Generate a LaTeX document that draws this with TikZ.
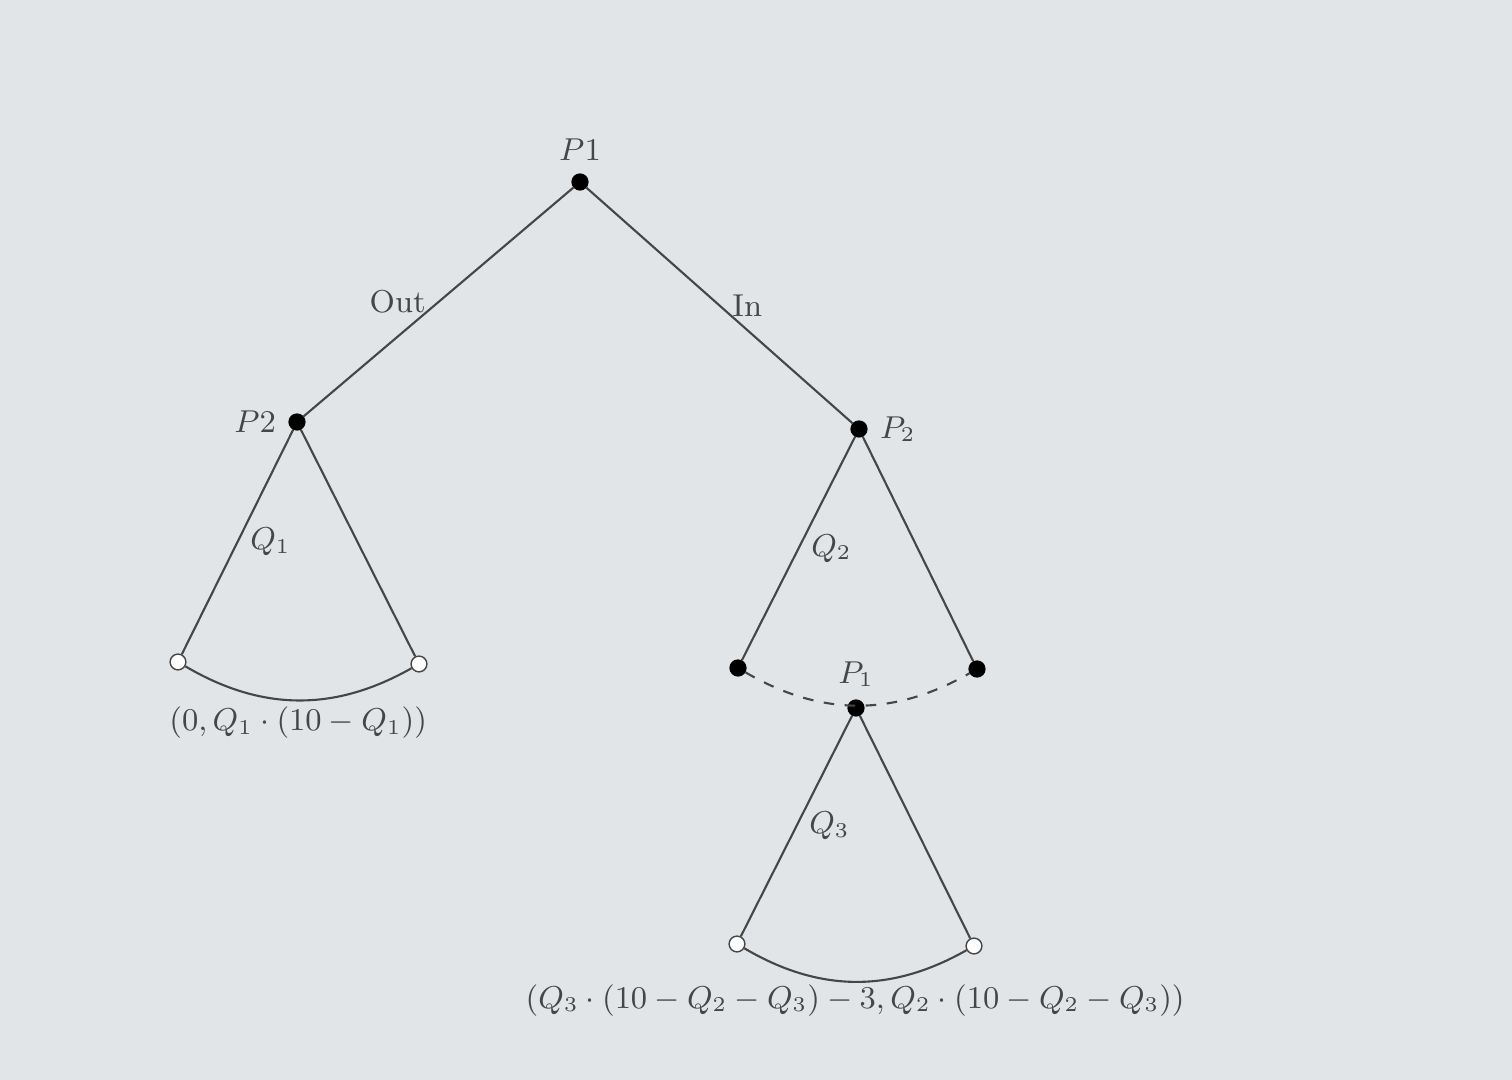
\documentclass[tikz,border=0pt]{standalone}
\usetikzlibrary{positioning}
\definecolor{screen}{RGB}{226,229,231}
\definecolor{ink}{RGB}{68,70,72}

\begin{document}
\begin{tikzpicture}[
    dec/.style={circle,fill=black,draw=black,inner sep=0pt,minimum size=4.5pt},
    leaf/.style={circle,fill=white,draw=ink,inner sep=0pt,minimum size=4.5pt},
    branch/.style={draw=ink,semithick},
    tag/.style={text=ink,font=\small}]
  \fill[screen] (0,0) rectangle (15.12,10.8);

  % decision nodes
  \node[dec,label={[tag]above:$P1$}] (root) at (5.80,8.98) {};
  \node[dec,label={[tag]left:$P2$}] (outP2) at (2.97,6.58) {};
  \node[dec,label={[tag]right:$P_2$}] (inP2) at (8.59,6.51) {};
  \node[dec] (qa) at (7.38,4.12) {};
  \node[dec] (qb) at (9.77,4.11) {};
  \node[dec,label={[tag]above:$P_1$}] (inP1) at (8.56,3.72) {};

  % end nodes
  \node[leaf] (outL) at (1.78,4.18) {};
  \node[leaf] (outR) at (4.19,4.16) {};
  \node[leaf] (endL) at (7.37,1.36) {};
  \node[leaf] (endR) at (9.74,1.34) {};

  % branches
  \draw[branch] (root) -- node[tag,left] {Out} (outP2);
  \draw[branch] (root) -- node[tag,right] {In} (inP2);
  \draw[branch] (outP2) -- node[tag,right] {$Q_1$} (outL);
  \draw[branch] (outP2) -- (outR);
  \draw[branch] (inP2) -- node[tag,right] {$Q_2$} (qa);
  \draw[branch] (inP2) -- (qb);
  \draw[branch] (inP1) -- node[tag,right] {$Q_3$} (endL);
  \draw[branch] (inP1) -- (endR);

  % continuum arcs
  \draw[branch] (outL) to[bend right=30]
    node[tag,below,inner sep=1.5pt] (payOut) {$(0,Q_1\cdot(10-Q_1))$} (outR);
  \draw[branch,dashed] (qa) to[bend right=30] (qb);
  \draw[branch] (endL) to[bend right=30]
    node[tag,below,inner sep=0.5pt] (payIn) {$(Q_3\cdot(10-Q_2-Q_3)-3,Q_2\cdot(10-Q_2-Q_3))$} (endR);
\end{tikzpicture}
\end{document}
